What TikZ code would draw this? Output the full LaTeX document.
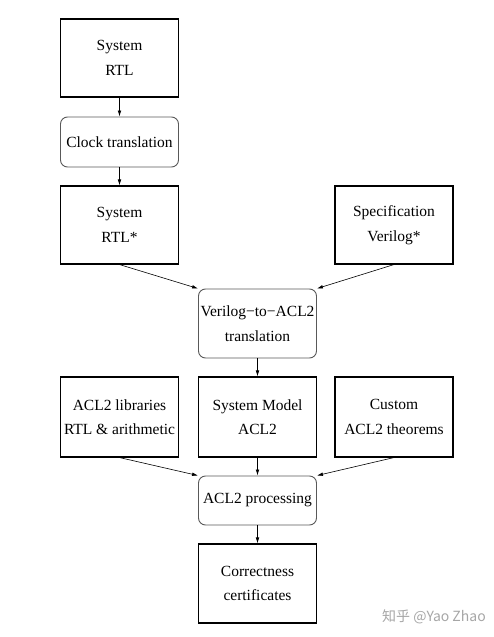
\documentclass[tikz,border=0pt]{standalone}
\usepackage{fontspec}
\setmainfont{Liberation Serif}
\newfontfamily\cjkfont{Noto Sans CJK SC}
\usetikzlibrary{arrows.meta}

\begin{document}
\begin{tikzpicture}[x=1pt,y=-1pt,
    squarebox/.style={draw,line width=1.1pt,minimum width=\boxwidth pt,minimum height=\boxheight pt,align=center,inner sep=0,font=\boxfontsize},
    roundbox/.style={draw=black!65,line width=0.9pt,rounded corners=7pt,minimum width=\boxwidth pt,align=center,inner sep=0,font=\boxfontsize},
    flowarrow/.style={line width=0.6pt,-{Latex[length=6pt,width=3.6pt]}}]
    \pgfmathsetmacro{\boxwidth}{118}
    \pgfmathsetmacro{\boxheight}{78}
    \pgfmathsetmacro{\leftcol}{119.5}
    \pgfmathsetmacro{\midcol}{257.5}
    \pgfmathsetmacro{\rightcol}{394}
    \providecommand{\boxfontsize}{\fontsize{15.5}{24.5}\selectfont}
    \useasboundingbox (0,0) rectangle (494,637);
    % top column
    \node[squarebox] (rtl) at (\leftcol,58) {System\\RTL};
    \node[roundbox,minimum height=50pt] (clock) at (\leftcol,142) {Clock translation};
    \node[squarebox] (rtlstar) at (\leftcol,225) {System\\RTL*};
    \node[squarebox] (spec) at (\rightcol,225) {Specification\\Verilog*};
    \node[roundbox,minimum height=69pt] (vtoacl) at (\midcol,323.5) {Verilog−to−ACL2\\translation};
    % lower row
    \node[squarebox,minimum height=80pt] (libs) at (\leftcol,417) {ACL2 libraries\\RTL \& arithmetic};
    \node[squarebox,minimum height=80pt] (model) at (\midcol,417) {System Model\\ACL2};
    \node[squarebox,minimum height=80pt] (custom) at (\rightcol,417) {Custom\\ACL2 theorems};
    \node[roundbox,minimum height=49pt] (proc) at (\midcol,500.5) {ACL2 processing};
    \node[squarebox,minimum height=79pt] (cert) at (\midcol,583.5) {Correctness\\certificates};
    % connectors
    \draw[flowarrow] (rtl) -- (clock);
    \draw[flowarrow] (clock) -- (rtlstar);
    \draw[flowarrow] (rtlstar.south) -- (vtoacl.north west);
    \draw[flowarrow] (spec.south) -- (vtoacl.north east);
    \draw[flowarrow] (vtoacl) -- (model);
    \draw[flowarrow] (libs.south) -- (proc.north west);
    \draw[flowarrow] (model) -- (proc);
    \draw[flowarrow] (custom.south) -- (proc.north east);
    \draw[flowarrow] (proc) -- (cert);
    % watermark
    \node[anchor=east,text=black!35,inner sep=0] (mark) at (486,617) {\cjkfont\fontsize{14}{16}\selectfont 知乎 @Yao Zhao};
\end{tikzpicture}
\end{document}
